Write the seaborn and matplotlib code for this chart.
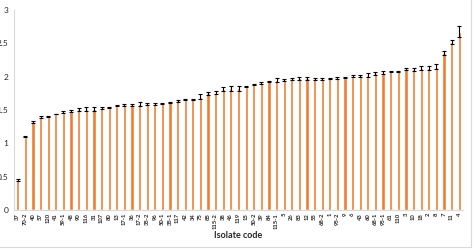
import pandas as pd
import matplotlib
matplotlib.use("Agg")
import matplotlib.pyplot as plt
import seaborn as sns
from matplotlib.patches import Rectangle

# isolate codes, in the order they appear on the x axis
isolates = ["37", "70-2", "40", "57", "120", "41", "59-1", "48", "90", "116",
            "31", "107", "80", "13", "17-1", "36", "17-2", "35-2", "96", "50-1",
            "35-1", "117", "42", "34", "75", "85", "115-2", "38", "46", "119",
            "15", "50-2", "39", "84", "115-1", "5", "26", "83", "12", "55",
            "68-2", "1", "95-2", "9", "6", "43", "60", "68-1", "95-1", "61",
            "110", "3", "10", "18", "2", "8", "7", "11", "4"]

# mean values
means = [0.45, 1.10, 1.32, 1.40, 1.40, 1.44, 1.47, 1.485, 1.51, 1.51,
         1.515, 1.525, 1.535, 1.565, 1.575, 1.575, 1.59, 1.59, 1.59, 1.60,
         1.615, 1.635, 1.66, 1.66, 1.70, 1.75, 1.76, 1.81, 1.825, 1.825,
         1.85, 1.885, 1.90, 1.93, 1.95, 1.95, 1.965, 1.975, 1.975, 1.965,
         1.965, 1.975, 1.98, 1.985, 2.01, 2.01, 2.025, 2.05, 2.06, 2.08,
         2.08, 2.11, 2.11, 2.125, 2.135, 2.15, 2.35, 2.525, 2.675]

# standard errors (half the error bar length)
errors = [0.02, 0.01, 0.01, 0.015, 0.01, 0.005, 0.02, 0.02, 0.02, 0.03,
          0.03, 0.015, 0.01, 0.005, 0.01, 0.02, 0.025, 0.02, 0.01, 0.01,
          0.01, 0.015, 0.01, 0.01, 0.035, 0.02, 0.02, 0.03, 0.04, 0.04,
          0.005, 0.01, 0.015, 0.01, 0.035, 0.015, 0.015, 0.025, 0.025, 0.02,
          0.02, 0.01, 0.015, 0.01, 0.02, 0.01, 0.03, 0.02, 0.02, 0.005,
          0.005, 0.015, 0.02, 0.03, 0.03, 0.035, 0.03, 0.03, 0.08]

y_ticks = [0, 0.5, 1, 1.5, 2, 2.5, 3]

df = pd.DataFrame({"isolate": isolates, "value": means, "err": errors})

sns.set_style("white")
plt.rcParams["font.family"] = ["Lato", "DejaVu Sans"]

fig = plt.figure(figsize=(4.74, 2.5), dpi=100)
ax = fig.add_axes([14 / 474, 40 / 250, 449 / 474, 200 / 250])

sns.barplot(data=df, x="isolate", y="value", color="#ED7D31", width=0.42,
            saturation=1, errorbar=None, ax=ax)
ax.errorbar(x=range(len(df)), y=df["value"], yerr=df["err"], fmt="none",
            ecolor="black", elinewidth=0.8, capsize=1.6, capthick=0.8)

ax.set_xlim(-0.5, len(df) - 0.5)
ax.set_ylim(0, 3)
ax.set_yticks(y_ticks)
ax.set_yticklabels([f"{t:g}" for t in y_ticks])
ax.tick_params(axis="y", length=0, labelsize=6, pad=4)
ax.tick_params(axis="x", length=0, labelsize=4.2, rotation=90, pad=2)
for lab in ax.get_xticklabels():
    lab.set_fontweight("bold")
ax.set_ylabel("")
ax.set_xlabel("Isolate code", fontsize=6.5, fontweight="bold", labelpad=2)

for side in ["top", "right"]:
    ax.spines[side].set_visible(False)
ax.spines["left"].set_color("#D9D9D9")
ax.spines["bottom"].set_color("#D9D9D9")
ax.spines["left"].set_linewidth(0.8)
ax.spines["bottom"].set_linewidth(0.8)

# chart area border as in the spreadsheet export
fig.patches.append(Rectangle((-0.01, 3 / 250), 471 / 474 + 0.01, 1.02,
                             transform=fig.transFigure, fill=False,
                             edgecolor="#D9D9D9", linewidth=0.8))

fig.savefig("out.png", dpi=100)
